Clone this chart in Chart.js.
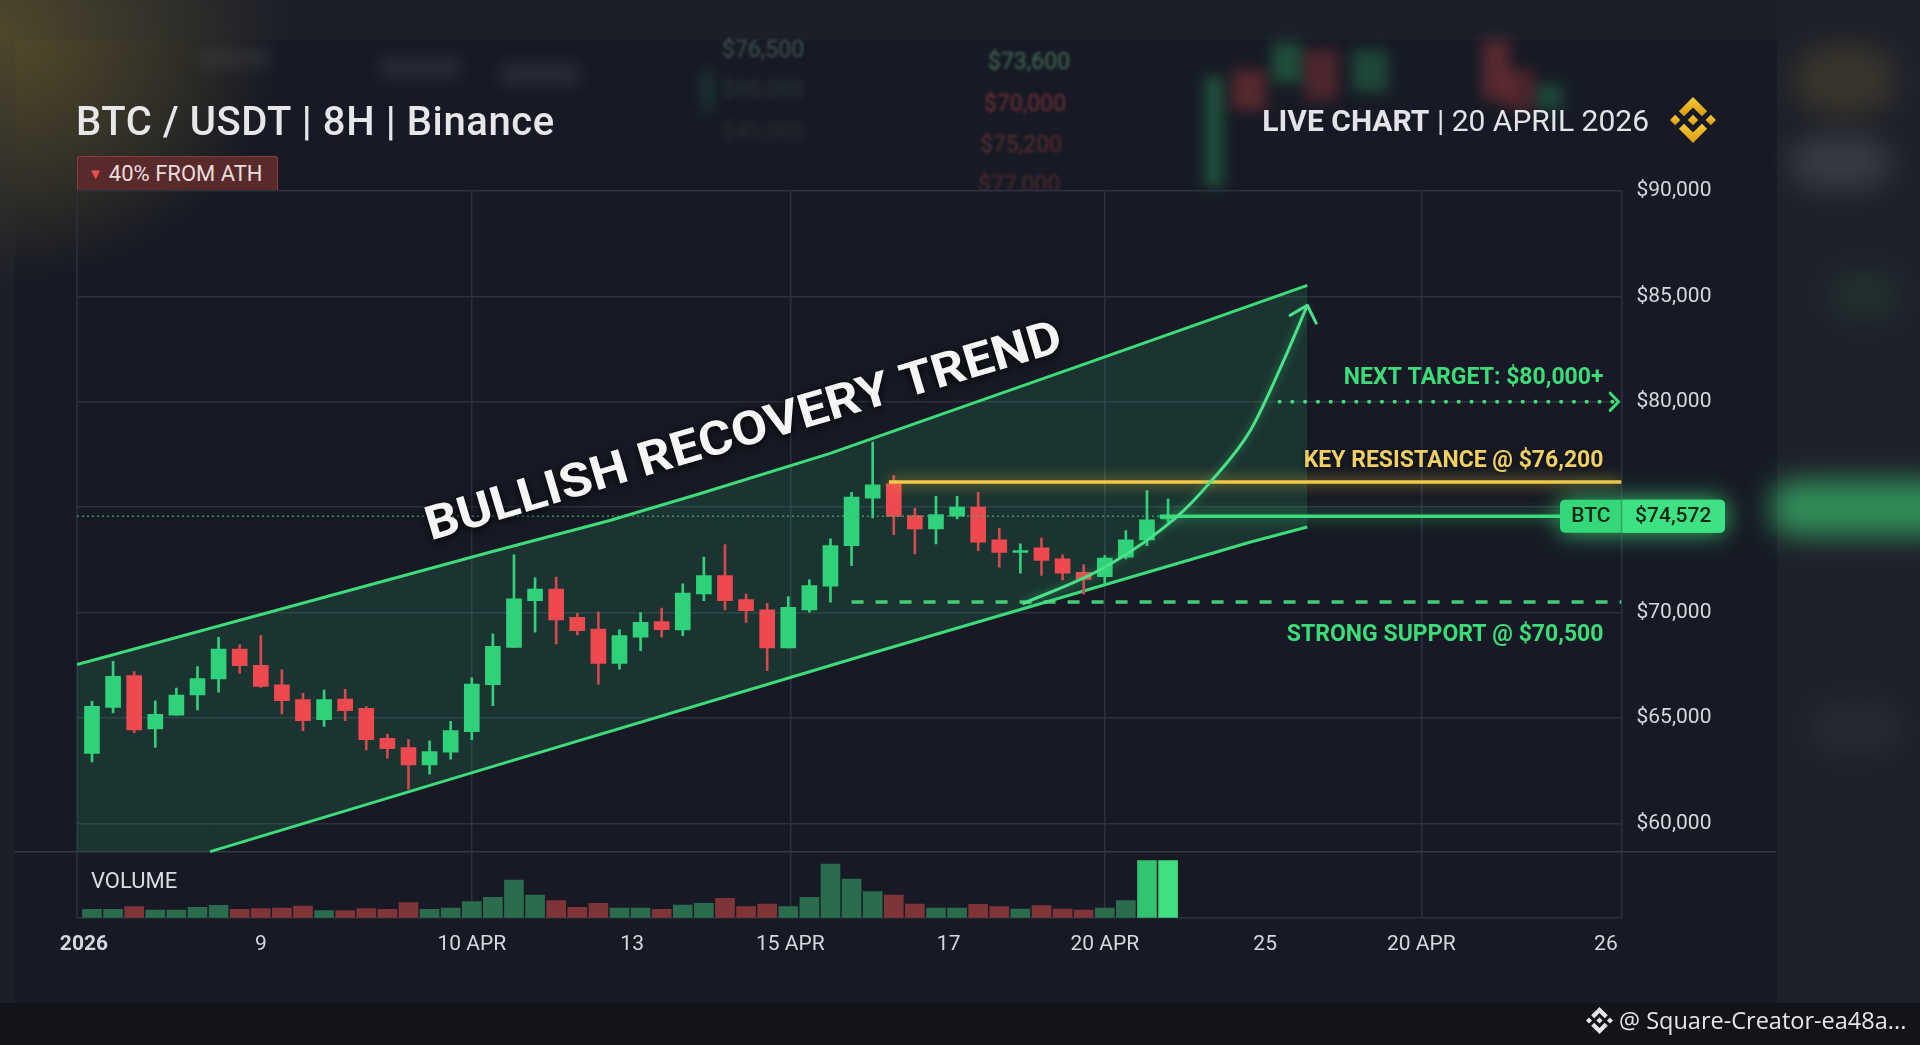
<!DOCTYPE html>
<html>
<head>
<meta charset="utf-8">
<title>BTC / USDT | 8H | Binance</title>
<script src="https://cdn.jsdelivr.net/npm/chart.js@4.4.1/dist/chart.umd.min.js"></script>
<style>
  html, body { margin: 0; padding: 0; width: 1920px; height: 1045px; overflow: hidden; background: #1c1f28; font-family: Roboto, "Noto Sans", sans-serif; }
  .abs { position: absolute; }
  #glowTL { left: 0; top: 0; width: 700px; height: 600px; background: radial-gradient(ellipse 380px 340px at 0px 30px, rgba(140,120,50,0.45), rgba(0,0,0,0) 75%); }
  #panel { left: 15px; top: 40px; width: 1762px; height: 963px; background: #171a24; }
  #panelTint { left: 15px; top: 40px; width: 600px; height: 500px; background: radial-gradient(ellipse 330px 300px at 0px 0px, rgba(120,105,45,0.18), rgba(0,0,0,0) 75%); }
  #rightSide { left: 1777px; top: 0; width: 143px; height: 1003px; background: #1e2129; }
  #bottomBand { left: 0; top: 1003px; width: 1920px; height: 42px; background: #121419; }
  .blob { filter: blur(14px); border-radius: 40%; }
  .ghost { filter: blur(1.6px); font-size: 23px; white-space: nowrap; }
  .bar { filter: blur(7px); }
  #title { left: 76px; top: 102px; font-size: 40px; line-height: 40px; font-weight: 500; letter-spacing: 0.6px; color: #e7e7ea; white-space: nowrap; }
  #live { right: 271px; top: 106px; font-size: 30px; line-height: 30px; color: #e4e4e8; white-space: nowrap; }
  #live b { font-weight: 700; }
  #badge { left: 77px; top: 156px; width: 201px; height: 34px; box-sizing: border-box; background: #582a2b; border: 1px solid #8a3d38; border-bottom: none; border-radius: 3px 3px 0 0; color: #ecdcdc; font-size: 22px; line-height: 33px; white-space: nowrap; }
  #badge .tri { color: #ef4d50; font-size: 15px; margin: 0 6px 0 10px; position: relative; top: -2px; }
  #logo { left: 1670px; top: 97px; width: 46px; height: 46px; }
  #wm { left: 1619px; top: 1004px; font-family: "Open Sans", "Noto Sans", sans-serif; font-size: 23.5px; line-height: 32px; color: #e6e6e6; white-space: nowrap; }
  #wmLogo { left: 1586px; top: 1007px; width: 27px; height: 27px; }
  #stage { left: 0; top: 0; width: 1920px; height: 1045px; }
</style>
</head>
<body>
<div class="abs" id="panel"></div>
<div class="abs" id="rightSide"></div>
<div class="abs" id="glowTL"></div>
<div class="abs" id="panelTint"></div>

<!-- blurred chart behind the card -->
<div class="abs blob" style="left:1795px;top:45px;width:100px;height:70px;background:rgba(150,125,60,0.22)"></div>
<div class="abs blob" style="left:1790px;top:135px;width:100px;height:55px;background:rgba(190,190,195,0.16)"></div>
<div class="abs blob" style="left:1772px;top:480px;width:190px;height:56px;border-radius:20%;background:rgba(60,215,120,0.6)"></div>
<div class="abs blob" style="left:1830px;top:270px;width:70px;height:50px;background:rgba(60,160,90,0.12)"></div>
<div class="abs blob" style="left:1810px;top:700px;width:90px;height:55px;background:rgba(120,120,130,0.1)"></div>
<div class="abs bar" style="left:1205px;top:77px;width:18px;height:110px;background:rgba(46,190,110,0.35)"></div>
<div class="abs bar" style="left:1232px;top:70px;width:34px;height:40px;background:rgba(220,70,70,0.32)"></div>
<div class="abs bar" style="left:1272px;top:43px;width:30px;height:40px;background:rgba(46,190,110,0.32)"></div>
<div class="abs bar" style="left:1304px;top:50px;width:34px;height:50px;background:rgba(220,70,70,0.28)"></div>
<div class="abs bar" style="left:1352px;top:50px;width:36px;height:42px;background:rgba(46,190,110,0.28)"></div>
<div class="abs bar" style="left:1482px;top:40px;width:28px;height:60px;background:rgba(220,70,70,0.32)"></div>
<div class="abs bar" style="left:1505px;top:70px;width:30px;height:40px;background:rgba(220,70,70,0.28)"></div>
<div class="abs bar" style="left:1537px;top:84px;width:26px;height:26px;background:rgba(46,190,110,0.28)"></div>
<div class="abs bar" style="left:705px;top:70px;width:5px;height:40px;background:rgba(46,190,110,0.4)"></div>
<div class="abs bar" style="left:200px;top:48px;width:70px;height:20px;background:rgba(120,120,130,0.14)"></div>
<div class="abs bar" style="left:380px;top:55px;width:80px;height:24px;background:rgba(120,120,130,0.16)"></div>
<div class="abs bar" style="left:500px;top:62px;width:80px;height:24px;background:rgba(120,120,130,0.16)"></div>
<div class="abs ghost" style="left:722px;top:36px;color:rgba(120,150,130,0.45)">$76,500</div>
<div class="abs ghost" style="left:722px;top:76px;color:rgba(120,150,130,0.25);filter:blur(3px)">$60,000</div>
<div class="abs ghost" style="left:722px;top:118px;color:rgba(120,150,130,0.2);filter:blur(3px)">$49,000</div>
<div class="abs ghost" style="left:988px;top:48px;color:rgba(95,150,115,0.65)">$73,600</div>
<div class="abs ghost" style="left:984px;top:90px;color:rgba(160,62,62,0.65)">$70,000</div>
<div class="abs ghost" style="left:980px;top:131px;color:rgba(150,62,62,0.55)">$75,200</div>
<div class="abs" style="left:970px;top:160px;width:120px;height:30px;overflow:hidden"><div class="ghost" style="position:absolute;left:8px;top:11px;color:rgba(150,62,62,0.45)">$77,000</div></div>

<div class="abs" id="bottomBand"></div>

<div class="abs" id="stage"><canvas id="chart"></canvas></div>

<div class="abs" id="title">BTC / USDT | 8H | Binance</div>
<div class="abs" id="badge"><span class="tri">&#9660;</span>40% FROM ATH</div>
<div class="abs" id="live"><b>LIVE CHART</b> | 20 APRIL 2026</div>
<svg class="abs" id="logo" viewBox="0 0 126.61 126.61">
  <defs><linearGradient id="gold" x1="0" y1="0" x2="0" y2="1"><stop offset="0" stop-color="#f8cc3a"/><stop offset="1" stop-color="#d99a0c"/></linearGradient></defs>
  <g fill="url(#gold)">
    <path d="M38.73,53.2,63.3,28.63,87.89,53.22l14.3-14.3L63.3,0,24.43,38.9Z"/>
    <path d="M0,63.31l14.3-14.31,14.3,14.31L14.3,77.61Z"/>
    <path d="M38.73,73.41,63.3,98l24.59-24.59,14.31,14.29,0,0L63.3,126.61,24.42,87.73l0,0Z"/>
    <path d="M98,63.31l14.3-14.31,14.31,14.3-14.31,14.3Z"/>
    <path d="M77.83,63.3h0L63.3,48.76,48.76,63.3,63.3,77.83,77.83,63.3Z"/>
  </g>
</svg>
<svg class="abs" id="wmLogo" viewBox="0 0 126.61 126.61">
  <g fill="#e8e8e8">
    <path d="M38.73,53.2,63.3,28.63,87.89,53.22l14.3-14.3L63.3,0,24.43,38.9Z"/>
    <path d="M0,63.31l14.3-14.31,14.3,14.31L14.3,77.61Z"/>
    <path d="M38.73,73.41,63.3,98l24.59-24.59,14.31,14.29,0,0L63.3,126.61,24.42,87.73l0,0Z"/>
    <path d="M98,63.31l14.3-14.31,14.31,14.3-14.31,14.3Z"/>
    <path d="M77.83,63.3h0L63.3,48.76,48.76,63.3,63.3,77.83,77.83,63.3Z"/>
  </g>
</svg>
<div class="abs" id="wm">@ Square-Creator-ea48a...</div>

<script>
// 8H candles
const OPEN  = [63320,65500,67010,64480,65140,66090,66850,68270,67500,66570,65870,64920,65900,65460,64030,63600,62770,63380,64350,66580,68350,70570,71120,69780,69220,67590,68830,69570,69180,70890,71760,70620,70130,68320,70130,71250,73180,75430,76110,74600,73970,74570,75000,73450,72850,73070,72550,71910,71710,72630,73450,74450];
const HIGH  = [65790,67690,67200,65820,66420,67440,68830,68480,68910,67280,66170,66330,66360,65540,64240,63980,63920,64840,66900,68990,72740,71650,71680,69970,70020,69190,70000,70220,71360,72630,73230,70890,70440,70760,71550,73500,75710,78090,76500,74950,75510,75510,75710,74000,73260,73540,72740,72280,72710,73890,75790,75400];
const LOW   = [62920,65240,64300,63600,65140,65380,66220,67130,66450,65190,64400,64600,64870,63490,63100,61630,62340,63050,63970,65580,68350,69070,68510,68940,66610,67320,68190,68830,68910,70570,70130,69540,67250,68320,70020,70490,72230,74490,73700,72780,73260,74450,72940,72150,71870,71760,71550,70880,71360,72550,73180,74300];
const CLOSE = [65550,66980,64430,65170,66090,66870,68270,67480,66500,65820,64870,65870,65350,63970,63540,62770,63410,64400,66610,68400,70650,71120,69650,69140,67590,68910,69540,69190,70930,71760,70570,70090,68320,70250,71280,73180,75480,76060,74560,73970,74650,75000,73340,72860,72910,72470,71870,71570,72590,73450,74400,74572];
const VOLUME = [840,840,1100,770,770,1040,1230,840,900,970,1170,700,700,900,840,1500,840,970,1600,2030,3770,2270,1700,1040,1430,970,970,840,1270,1430,1930,1100,1370,1100,2030,5370,3870,2600,2270,1370,970,970,1330,1100,870,1200,870,770,970,1700,5700,5700];

// x axis (candle index) ticks
const TICK_POS    = [0.62, 9, 19, 26.6, 34.1, 41.6, 49, 56.6, 64, 72.75];
const TICK_LABELS = ["2026", "9", "10 APR", "13", "15 APR", "17", "20 APR", "25", "20 APR", "26"];
const GRID_LABELS = ["10 APR", "15 APR", "20 APR"];
const PRICE_TICKS = [60000, 65000, 70000, 75000, 80000, 85000, 90000];
const HIDDEN_PRICE_LABEL = 75000; // sits under the price tag

// trend channel and projection, [index, price]
const CHANNEL_UPPER = [[0.29,67530],[19.85,72860],[25.54,74370],[29.8,75640],[35.95,77540],[48.77,82050],[58.6,85520]];
const CHANNEL_LOWER = [[0.29,58660],[6.6,58660],[19.85,62660],[37.86,68050],[55.87,73340],[58.6,74060]];
const PROJECTION    = [[45.1,70410],[49.0,72150],[52.4,74530],[54.0,76190],[55.9,78640],[57.5,82000],[58.6,84580]];

// key levels
const LAST_PRICE = 74572;
const RESISTANCE = 76200;
const SUPPORT = 70500;
const TARGET = 80000;
const X_MIN = 0.29, X_MAX = 73.49;
const Y_MIN = 55527, Y_MAX = 90000;
const VOL_MAX = 72670;
const VOLUME_FLOOR = 58660; // divider between price and volume panes

const GREEN = "#2fd27a";
const RED = "#ef4950";
const LINE_GREEN = "#3ddc7a";
const GRID = "#2d313e";

const up = CLOSE.map((c, i) => c >= OPEN[i]);
const toXY = (arr) => arr.map((p) => ({ x: p[0], y: p[1] }));

const datasets = [
  {
    type: "line", label: "channel top", data: toXY(CHANNEL_UPPER),
    borderColor: LINE_GREEN, borderWidth: 3, pointRadius: 0,
    fill: { target: 1, above: "rgba(52,190,118,0.16)", below: "rgba(52,190,118,0.16)" },
    order: 20,
  },
  {
    type: "line", label: "channel bottom", data: toXY(CHANNEL_LOWER),
    borderColor: LINE_GREEN, borderWidth: 3, pointRadius: 0, fill: false,
    segment: { borderColor: (c) => (c.p0DataIndex === 0 ? "rgba(0,0,0,0)" : LINE_GREEN) },
    order: 19,
  },
  {
    type: "bar", label: "volume", yAxisID: "yv", grouped: false, barThickness: 19,
    data: VOLUME.map((v, i) => ({ x: i + 1, y: v })),
    backgroundColor: VOLUME.map((v, i) => (i >= 50 ? (i === 51 ? "#3ee07f" : "#33c46f") : up[i] ? "#2a6c4d" : "#7f3538")),
    order: 18,
  },
  {
    type: "bar", label: "wick", grouped: false, barThickness: 2,
    data: HIGH.map((h, i) => ({ x: i + 1, y: [LOW[i], h] })),
    backgroundColor: up.map((u) => (u ? GREEN : "#d2494e")),
    order: 12,
  },
  {
    type: "bar", label: "body", grouped: false, barThickness: 15, minBarLength: 2,
    data: OPEN.map((o, i) => ({ x: i + 1, y: [o, CLOSE[i]] })),
    backgroundColor: up.map((u) => (u ? GREEN : RED)),
    order: 11,
  },
  {
    type: "line", label: "last dotted", data: [{ x: X_MIN, y: LAST_PRICE }, { x: X_MAX, y: LAST_PRICE }],
    borderColor: "rgba(62,190,118,0.75)", borderWidth: 1.5, borderDash: [2, 3], pointRadius: 0, order: 10,
  },
  {
    type: "line", label: "support", data: [{ x: 37.0, y: SUPPORT }, { x: X_MAX, y: SUPPORT }],
    borderColor: "rgba(74,222,128,0.9)", borderWidth: 3.5, borderDash: [12, 12], pointRadius: 0, order: 6,
  },
  {
    type: "line", label: "resistance", data: [{ x: 38.77, y: RESISTANCE }, { x: X_MAX, y: RESISTANCE }],
    borderColor: "#f3c94a", borderWidth: 3.5, pointRadius: 0, order: 5,
    glow: "rgba(245,200,60,0.85)", glowBlur: 14,
  },
  {
    type: "line", label: "last price", data: [{ x: 51.6, y: LAST_PRICE }, { x: 70.6, y: LAST_PRICE }],
    borderColor: LINE_GREEN, borderWidth: 3.5, pointRadius: 0, order: 4,
    glow: "rgba(61,220,122,0.8)", glowBlur: 14,
  },
  {
    type: "line", label: "target", data: [{ x: 57.28, y: TARGET }, { x: 73.2, y: TARGET }],
    borderColor: LINE_GREEN, borderWidth: 4, borderDash: [0.1, 12.7], borderCapStyle: "round", pointRadius: 0, order: 3,
  },
  {
    type: "line", label: "projection", data: toXY(PROJECTION),
    borderColor: "#4be08a", borderWidth: 3, pointRadius: 0, cubicInterpolationMode: "monotone", order: 2,
    glow: "rgba(61,220,122,0.5)", glowBlur: 8,
  },
];

const glowPlugin = {
  id: "glow",
  beforeDatasetDraw(chart, args) {
    const ds = chart.data.datasets[args.index];
    if (!ds.glow) return;
    chart.ctx.save();
    chart.ctx.shadowColor = ds.glow;
    chart.ctx.shadowBlur = ds.glowBlur;
  },
  afterDatasetDraw(chart, args) {
    if (chart.data.datasets[args.index].glow) chart.ctx.restore();
  },
};

const framePlugin = {
  id: "frame",
  beforeDatasetsDraw(chart) {
    const { ctx, chartArea: a, scales } = chart;
    ctx.save();
    ctx.strokeStyle = GRID;
    ctx.lineWidth = 1.5;
    ctx.beginPath();
    ctx.moveTo(a.left, a.top);
    ctx.lineTo(a.left, a.bottom);
    ctx.stroke();
    const ySep = scales.y.getPixelForValue(VOLUME_FLOOR);
    ctx.strokeStyle = "#343846";
    ctx.beginPath();
    ctx.moveTo(15, ySep);
    ctx.lineTo(1776, ySep);
    ctx.stroke();
    ctx.restore();
  },
};

function chevron(ctx, x, y, dx, dy, len, spread) {
  const ang = Math.atan2(dy, dx);
  ctx.beginPath();
  ctx.moveTo(x - len * Math.cos(ang - spread), y - len * Math.sin(ang - spread));
  ctx.lineTo(x, y);
  ctx.lineTo(x - len * Math.cos(ang + spread), y - len * Math.sin(ang + spread));
  ctx.stroke();
}

const notesPlugin = {
  id: "notes",
  afterDatasetsDraw(chart) {
    const { ctx, chartArea: a, scales } = chart;
    const x = scales.x, y = scales.y;

    // arrow heads
    ctx.save();
    ctx.strokeStyle = LINE_GREEN;
    ctx.lineCap = "round";
    ctx.lineJoin = "round";
    ctx.lineWidth = 3;
    chevron(ctx, x.getPixelForValue(73.35), y.getPixelForValue(TARGET), 1, 0, 12, 0.8);
    const pts = chart.getDatasetMeta(10).data;
    const tip = pts[pts.length - 1];
    ctx.strokeStyle = "#4be08a";
    chevron(ctx, tip.x, tip.y, 0.3, -1, 20, 0.75);
    ctx.restore();

    // slanted headline along the channel
    ctx.save();
    ctx.translate(x.getPixelForValue(17.06), y.getPixelForValue(73420));
    ctx.rotate(-16.7 * Math.PI / 180);
    ctx.font = "bold 47px Roboto";
    const txt = "BULLISH RECOVERY TREND";
    ctx.scale(662 / ctx.measureText(txt).width, 1);
    ctx.shadowColor = "rgba(0,0,0,0.95)";
    ctx.shadowBlur = 10;
    ctx.shadowOffsetY = 2;
    ctx.fillStyle = "#f5f5f5";
    ctx.fillText(txt, 0, 0);
    ctx.restore();

    // level captions
    ctx.save();
    ctx.font = "bold 23px Roboto";
    ctx.textAlign = "right";
    ctx.textBaseline = "middle";
    const rx = a.right - 18;
    ctx.fillStyle = LINE_GREEN;
    ctx.fillText("NEXT TARGET: $80,000+", rx, y.getPixelForValue(TARGET) - 24);
    ctx.fillText("STRONG SUPPORT @ $70,500", rx, y.getPixelForValue(SUPPORT) + 33);
    ctx.fillStyle = "#f1cf62";
    ctx.shadowColor = "rgba(0,0,0,0.6)";
    ctx.shadowBlur = 4;
    ctx.fillText("KEY RESISTANCE @ $76,200", rx, y.getPixelForValue(RESISTANCE) - 21);
    ctx.restore();

    // volume pane caption
    ctx.save();
    ctx.font = "22px Roboto";
    ctx.fillStyle = "#dcdde2";
    ctx.textBaseline = "middle";
    ctx.fillText("VOLUME", a.left + 14, y.getPixelForValue(VOLUME_FLOOR) + 31);
    ctx.restore();
  },
  afterDraw(chart) {
    const { ctx, chartArea: a, scales } = chart;
    const ty = scales.y.getPixelForValue(LAST_PRICE);
    const x0 = a.right - 61.5, x1 = a.right + 103.5, h = 33;
    ctx.save();
    ctx.shadowColor = "rgba(61,220,122,0.85)";
    ctx.shadowBlur = 24;
    ctx.fillStyle = "#34d878";
    ctx.beginPath();
    ctx.roundRect(x0, ty - h / 2, x1 - x0, h, 5);
    ctx.fill();
    ctx.restore();
    ctx.save();
    ctx.fillStyle = "#3ee282";
    ctx.beginPath();
    ctx.roundRect(a.right, ty - h / 2, x1 - a.right, h, [0, 5, 5, 0]);
    ctx.fill();
    ctx.strokeStyle = "rgba(20,60,35,0.35)";
    ctx.lineWidth = 1.5;
    ctx.beginPath();
    ctx.moveTo(a.right, ty - h / 2);
    ctx.lineTo(a.right, ty + h / 2);
    ctx.stroke();
    ctx.font = "500 21px Roboto";
    ctx.fillStyle = "#0c2616";
    ctx.textAlign = "center";
    ctx.textBaseline = "middle";
    ctx.fillText("BTC", (x0 + a.right) / 2, ty + 1);
    ctx.fillText("$74,572", (a.right + x1) / 2, ty + 1);
    ctx.restore();
  },
};

new Chart(document.getElementById("chart"), {
  data: { datasets: datasets },
  options: {
    responsive: true,
    maintainAspectRatio: false,
    animation: false,
    devicePixelRatio: 1,
    layout: { padding: { left: 77, top: 191, right: 0, bottom: 0 } },
    plugins: { legend: { display: false }, tooltip: { enabled: false } },
    scales: {
      x: {
        type: "linear",
        offset: false,
        min: X_MIN,
        max: X_MAX,
        afterFit: (s) => { s.height = 127.3; },
        afterBuildTicks: (s) => { s.ticks = TICK_POS.map((v) => ({ value: v })); },
        grid: {
          offset: false,
          drawTicks: false,
          lineWidth: 1.5,
          color: (c) => (c.index !== undefined && GRID_LABELS.includes(TICK_LABELS[c.index]) ? GRID : "rgba(0,0,0,0)"),
        },
        border: { display: true, color: GRID, width: 1.5 },
        ticks: {
          autoSkip: false,
          maxRotation: 0,
          padding: 14,
          color: "#d6d8de",
          font: (c) => ({ family: "Roboto", size: 21, weight: c.index === 0 ? "bold" : "normal" }),
          callback: (v, i) => TICK_LABELS[i],
        },
      },
      y: {
        type: "linear",
        position: "right",
        min: Y_MIN,
        max: Y_MAX,
        afterFit: (s) => { s.width = 298.5; },
        afterBuildTicks: (s) => { s.ticks = PRICE_TICKS.map((v) => ({ value: v })); },
        grid: { drawTicks: false, color: GRID, lineWidth: 1.5 },
        border: { display: true, color: GRID, width: 1.5 },
        ticks: {
          padding: 15,
          color: "#d6d8de",
          font: { family: "Roboto", size: 21 },
          callback: (v) => (v === HIDDEN_PRICE_LABEL ? "" : "$" + v.toLocaleString("en-US")),
        },
      },
      yv: { type: "linear", display: false, min: 0, max: VOL_MAX },
    },
  },
  plugins: [glowPlugin, framePlugin, notesPlugin],
});
</script>
</body>
</html>
